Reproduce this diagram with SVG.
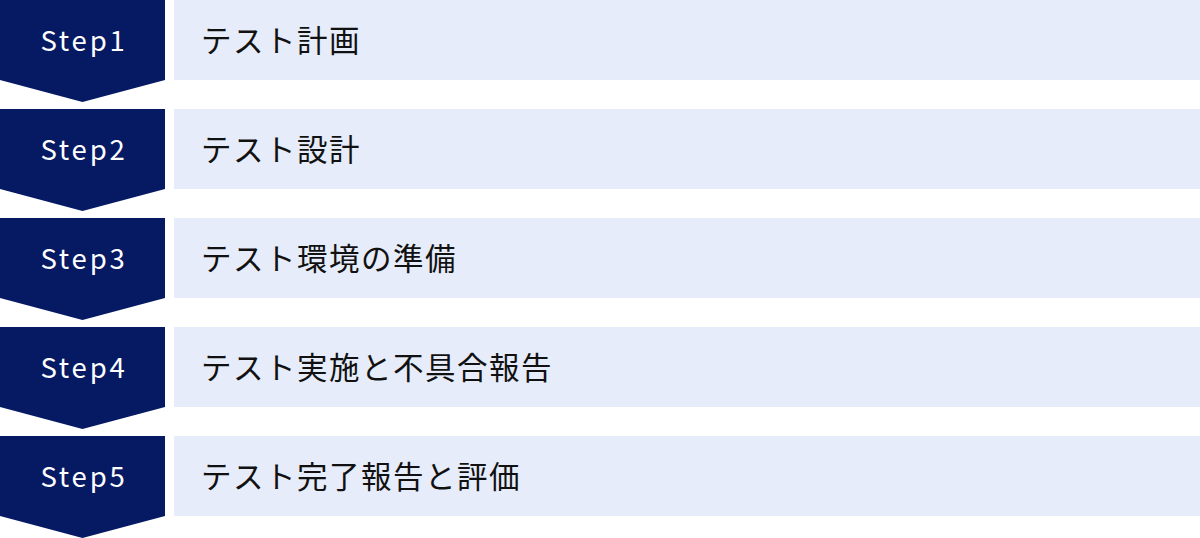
<svg xmlns="http://www.w3.org/2000/svg" width="1200" height="538" viewBox="0 0 1200 538">
<style>
.chev{fill:#061A64}
.bar{fill:#E6ECF9}
.step{font-family:"Noto Sans CJK JP","Noto Sans",sans-serif;font-size:27.5px;fill:#FFFFFF;letter-spacing:2.8px;text-anchor:middle}
.lbl{font-family:"Noto Sans CJK JP","Noto Sans",sans-serif;font-size:30.5px;fill:#111111;letter-spacing:1.5px;dominant-baseline:central}
</style>
<defs>
<path id="chevron" d="M0,0 H165 V80 L82.5,102 L0,80 Z"/>
</defs>
<g id="connectors"></g>
<g id="step1">
<use href="#chevron" class="chev"/>
<rect class="bar" x="174" y="0" width="1026" height="80"/>
<text class="step" x="84" y="51">Step1</text>
<text class="lbl" x="201" y="39">テスト計画</text>
</g>
<g id="step2" transform="translate(0,109)">
<use href="#chevron" class="chev"/>
<rect class="bar" x="174" y="0" width="1026" height="80"/>
<text class="step" x="84" y="51">Step2</text>
<text class="lbl" x="201" y="39">テスト設計</text>
</g>
<g id="step3" transform="translate(0,218)">
<use href="#chevron" class="chev"/>
<rect class="bar" x="174" y="0" width="1026" height="80"/>
<text class="step" x="84" y="51">Step3</text>
<text class="lbl" x="201" y="39">テスト環境の準備</text>
</g>
<g id="step4" transform="translate(0,327)">
<use href="#chevron" class="chev"/>
<rect class="bar" x="174" y="0" width="1026" height="80"/>
<text class="step" x="84" y="51">Step4</text>
<text class="lbl" x="201" y="39">テスト実施と不具合報告</text>
</g>
<g id="step5" transform="translate(0,436)">
<use href="#chevron" class="chev"/>
<rect class="bar" x="174" y="0" width="1026" height="80"/>
<text class="step" x="84" y="51">Step5</text>
<text class="lbl" x="201" y="39">テスト完了報告と評価</text>
</g>
</svg>
